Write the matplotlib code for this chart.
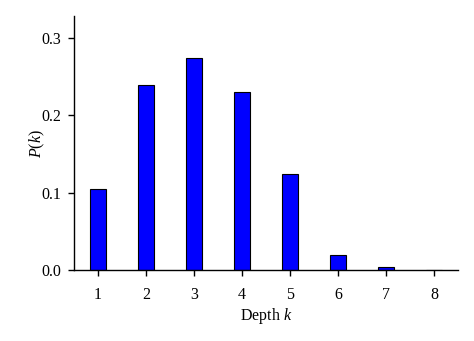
import matplotlib
matplotlib.use("Agg")
import matplotlib.pyplot as plt

depth = [1, 2, 3, 4, 5, 6, 7, 8]
prob = [0.105, 0.239, 0.274, 0.230, 0.124, 0.019, 0.004, 0.0]
yticks = [0.0, 0.1, 0.2, 0.3]

plt.rcParams['font.family'] = ['Liberation Serif', 'DejaVu Serif']
plt.rcParams['mathtext.fontset'] = 'custom'
plt.rcParams['mathtext.it'] = 'Liberation Serif:italic'
plt.rcParams['mathtext.rm'] = 'Liberation Serif'

fig = plt.figure(figsize=(4.74, 3.41), dpi=100)
ax = fig.add_axes([0.156, 0.208, 0.810, 0.745])
ax.bar(depth, prob, width=0.32, color='#0000FF', edgecolor='black', linewidth=0.8)
ax.set_xlim(0.5, 8.5)
ax.set_ylim(0, 0.328)
ax.set_xticks(depth)
ax.set_yticks(yticks)
ax.set_yticklabels([f"{v:.1f}" for v in yticks])
for s in ['top', 'right']:
    ax.spines[s].set_visible(False)
for s in ['left', 'bottom']:
    ax.spines[s].set_linewidth(1.0)
ax.tick_params(direction='out', length=4, width=1.0, labelsize=11.5)
ax.tick_params(axis='x', pad=8)
ax.tick_params(axis='y', pad=5)
ax.set_xlabel(r'Depth $k$', fontsize=11.5, labelpad=2)
ax.set_ylabel(r'$P(k)$', fontsize=11.5, labelpad=-4)
fig.savefig('out.png', dpi=100)
